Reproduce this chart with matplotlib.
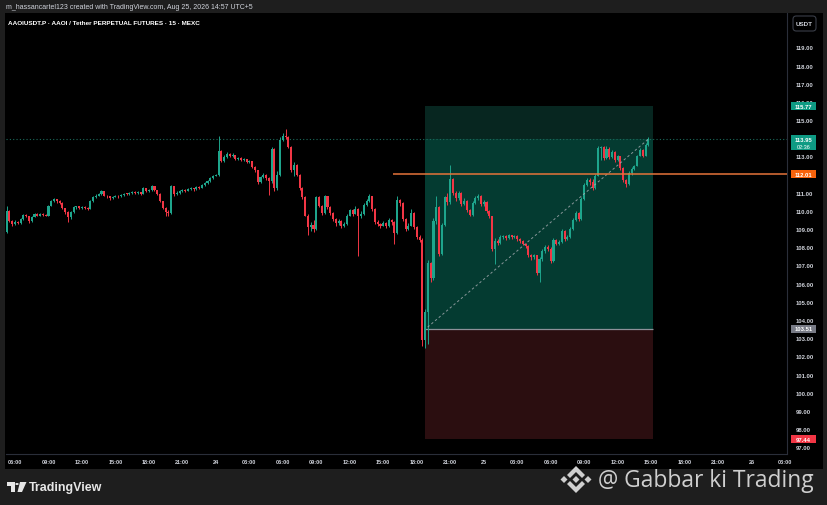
import numpy as np
import matplotlib
matplotlib.use("Agg")
import matplotlib.pyplot as plt
from matplotlib.patches import Rectangle, Polygon, Circle, FancyBboxPatch

plt.rcParams['font.family'] = ['Liberation Sans', 'DejaVu Sans']

W, H = 828, 506

# 15 minute candles, first bar is 05:15 on the 23rd (bar 0 = 06:00)
first_bar = -3
first_open = 108.85
closes = [
    110.00, 109.45, 109.30, 109.40, 109.35, 109.55, 109.80, 109.72, 109.45, 109.68,
    109.85, 109.75, 109.85, 109.80, 109.75, 110.30, 110.55, 110.65, 110.55, 110.45,
    110.15, 109.95, 109.65, 109.95, 110.20, 110.25, 110.15, 110.22, 110.18, 110.12,
    110.55, 110.75, 110.85, 110.95, 111.10, 110.85, 110.80, 110.70, 110.78, 110.85,
    110.80, 110.90, 110.95, 110.92, 111.00, 111.05, 110.98, 111.02, 110.95, 111.25,
    111.10, 111.15, 111.35, 111.15, 110.95, 110.55, 110.15, 109.95, 109.90, 111.35,
    110.95, 111.00, 111.10, 111.15, 111.10, 111.20, 111.25, 111.20, 111.30, 111.28,
    111.45, 111.55, 111.65, 111.80, 111.95, 112.00, 113.30, 112.75, 112.95, 113.15,
    113.05, 113.10, 112.85, 112.90, 112.80, 112.85, 112.70, 112.75, 112.40, 112.25,
    111.60, 111.85, 112.00, 111.80, 111.65, 113.40, 111.25, 112.00, 113.90, 114.15,
    114.05, 113.50, 112.25, 112.55, 112.00, 111.25, 110.75, 109.75, 109.10, 109.25,
    109.00, 110.75, 110.30, 109.90, 110.80, 110.20, 109.90, 109.55, 109.35, 109.45,
    109.20, 109.30, 109.75, 110.05, 109.85, 110.10, 109.70, 109.85, 110.35, 110.55,
    110.80, 110.10, 109.40, 109.30, 109.20, 109.35, 109.15, 109.50, 109.40, 108.80,
    110.60, 110.45, 109.55, 109.00, 109.20, 109.90, 109.10, 108.55, 108.40, 102.90,
    104.45, 107.15, 106.30, 109.45, 110.20, 107.65, 109.25, 110.75, 110.50, 111.75,
    111.00, 110.70, 111.00, 110.40, 110.55, 110.05, 109.80, 110.45, 110.70, 110.85,
    110.40, 110.50, 110.00, 109.70, 107.90, 108.35, 108.25, 108.55, 108.60, 108.50,
    108.65, 108.55, 108.60, 108.45, 108.35, 108.20, 108.05, 107.55, 107.45, 107.55,
    106.60, 107.35, 107.80, 108.00, 107.90, 107.25, 108.40, 108.20, 108.30, 108.90,
    108.45, 108.55, 109.00, 109.50, 109.90, 109.55, 110.65, 111.45, 111.70, 111.60,
    111.25, 111.95, 113.45, 113.50, 112.90, 113.40, 112.95, 113.25, 112.80, 113.00,
    112.35, 111.70, 111.50, 112.10, 112.30, 112.50, 113.05, 113.35, 113.05, 113.65,
    113.95,
]
highs = [
    110.27, 110.05, 109.50, 109.50, 109.45, 109.60, 109.85, 109.85, 109.75, 109.72,
    109.90, 109.88, 109.90, 109.88, 109.82, 110.35, 110.60, 110.72, 110.65, 110.60,
    110.50, 110.15, 110.00, 110.00, 110.25, 110.30, 110.28, 110.28, 110.25, 110.22,
    110.60, 110.80, 110.92, 111.00, 111.18, 111.10, 110.90, 110.85, 110.82, 110.90,
    110.88, 110.95, 111.00, 111.00, 111.05, 111.10, 111.08, 111.08, 111.05, 111.30,
    111.28, 111.22, 111.45, 111.38, 111.18, 111.00, 110.55, 110.20, 110.05, 111.45,
    111.30, 111.10, 111.15, 111.20, 111.20, 111.25, 111.30, 111.28, 111.35, 111.35,
    111.50, 111.60, 111.70, 111.85, 112.00, 112.05, 114.15, 113.35, 113.10, 113.25,
    113.20, 113.20, 113.10, 112.98, 112.95, 112.92, 112.88, 112.82, 112.70, 112.45,
    112.25, 111.95, 112.10, 112.05, 111.85, 113.50, 113.45, 112.20, 114.05, 114.30,
    114.50, 114.15, 113.55, 112.70, 112.60, 112.05, 111.30, 110.80, 109.85, 109.40,
    109.50, 110.85, 110.80, 110.35, 110.90, 110.85, 110.25, 109.95, 109.60, 109.55,
    109.50, 109.40, 109.85, 110.10, 110.10, 110.30, 110.15, 110.00, 110.45, 110.65,
    110.95, 110.85, 110.15, 109.50, 109.35, 109.45, 109.40, 109.60, 109.55, 109.45,
    110.80, 110.65, 110.50, 109.60, 109.35, 110.10, 109.95, 109.15, 108.65, 108.50,
    104.60, 107.30, 107.20, 109.60, 110.80, 110.25, 109.35, 110.85, 111.00, 112.55,
    111.80, 111.10, 111.10, 111.05, 110.70, 110.60, 110.10, 110.55, 110.80, 110.95,
    110.90, 110.60, 110.55, 110.05, 109.75, 108.50, 108.45, 108.65, 108.70, 108.65,
    108.72, 108.70, 108.70, 108.65, 108.50, 108.40, 108.25, 108.10, 107.65, 107.65,
    107.60, 107.45, 107.90, 108.10, 108.10, 108.00, 108.50, 108.45, 108.40, 109.00,
    108.95, 108.65, 109.10, 109.60, 110.00, 109.95, 110.75, 111.55, 111.80, 111.80,
    111.75, 112.05, 113.55, 113.60, 113.55, 113.55, 113.50, 113.35, 113.30, 113.10,
    113.05, 112.40, 111.75, 112.20, 112.40, 112.55, 113.10, 113.45, 113.40, 113.75,
    114.05,
]
lows = [
    108.80, 109.40, 109.20, 109.25, 109.28, 109.30, 109.50, 109.65, 109.35, 109.42,
    109.65, 109.70, 109.72, 109.74, 109.70, 109.72, 110.25, 110.50, 110.45, 110.40,
    110.10, 109.85, 109.40, 109.55, 109.90, 110.12, 110.10, 110.12, 110.10, 110.05,
    110.10, 110.50, 110.70, 110.80, 110.90, 110.80, 110.72, 110.62, 110.65, 110.75,
    110.74, 110.78, 110.85, 110.86, 110.90, 110.95, 110.92, 110.94, 110.88, 110.92,
    111.05, 111.05, 111.10, 111.10, 110.90, 110.50, 110.10, 109.75, 109.70, 109.85,
    110.85, 110.90, 110.95, 111.05, 111.02, 111.08, 111.15, 111.12, 111.18, 111.20,
    111.25, 111.40, 111.50, 111.60, 111.75, 111.90, 111.95, 112.70, 112.70, 112.90,
    112.95, 112.98, 112.80, 112.80, 112.75, 112.75, 112.65, 112.62, 112.35, 112.15,
    111.50, 111.55, 111.80, 111.70, 110.90, 111.55, 111.10, 111.15, 111.95, 113.85,
    113.95, 113.45, 112.15, 111.95, 111.90, 111.15, 110.65, 109.70, 108.65, 108.90,
    108.85, 108.95, 110.20, 109.80, 109.85, 110.10, 109.80, 109.45, 109.20, 109.25,
    109.05, 109.10, 109.25, 109.70, 109.75, 109.85, 107.50, 109.60, 109.80, 110.30,
    110.50, 110.00, 109.30, 109.15, 109.05, 109.15, 109.05, 109.10, 109.25, 108.20,
    108.75, 110.30, 109.45, 108.90, 108.95, 109.15, 109.00, 108.45, 108.30, 102.55,
    102.45, 102.70, 106.10, 106.20, 109.30, 107.50, 107.60, 109.20, 110.35, 110.40,
    110.90, 110.55, 110.60, 110.30, 110.35, 109.95, 109.70, 109.75, 110.40, 110.60,
    110.30, 110.30, 109.90, 109.60, 107.80, 107.10, 108.10, 108.20, 108.45, 108.40,
    108.45, 108.45, 108.50, 108.35, 108.25, 108.10, 107.95, 107.45, 107.30, 107.35,
    106.50, 106.10, 107.25, 107.70, 107.80, 107.15, 107.20, 108.10, 108.10, 108.25,
    108.35, 108.40, 108.50, 108.95, 109.45, 109.45, 109.50, 110.60, 111.40, 111.45,
    111.15, 111.20, 111.90, 112.80, 112.80, 112.85, 112.85, 112.90, 112.70, 112.75,
    112.25, 111.60, 111.30, 111.45, 112.00, 112.25, 112.45, 113.00, 112.95, 113.00,
    113.60,
]

tick_bars = [0, 12, 24, 36, 48, 60, 72, 84, 96, 108, 120, 132, 144, 156, 168, 180,
             192, 204, 216, 228, 240, 252, 264, 276]
tick_labels = ["06:00", "09:00", "12:00", "15:00", "18:00", "21:00", "24", "03:00",
               "06:00", "09:00", "12:00", "15:00", "18:00", "21:00", "25", "03:00",
               "06:00", "09:00", "12:00", "15:00", "18:00", "21:00", "26", "03:00"]
price_ticks = list(range(97, 120))

# long position tool
entry = 103.51
target = 115.77
stop = 97.44
pos_start, pos_end = 146.9, 228.7
# horizontal level
level = 112.01
level_start = 135.5
countdown = "02:36"

GREEN = '#1ea58c'
RED = '#f23645'


def px(x, y):
    return (x / W, 1 - y / H)


fig = plt.figure(figsize=(W / 100, H / 100), dpi=100)
fig.patch.set_facecolor('#1e1e1e')
fig.patches.append(Rectangle(px(5, 470), 818 / W, 456 / H, transform=fig.transFigure,
                             fc='black', ec='none', zorder=-1))

ax = fig.add_axes([5.7 / W, 1 - 455 / H, (787 - 5.7) / W, (455 - 14) / H])
ax.set_facecolor('black')
ax.set_xlim(-3.33, 276.7)
ax.set_ylim(96.63, 120.89)
for s in ['top', 'left']:
    ax.spines[s].set_visible(False)
for s in ['right', 'bottom']:
    ax.spines[s].set_color('#2a2e39')
    ax.spines[s].set_linewidth(0.8)

# candles
c = np.array(closes)
o = np.r_[first_open, c[:-1]]
h = np.maximum(np.array(highs), np.maximum(o, c))
l = np.minimum(np.array(lows), np.minimum(o, c))
bars = np.arange(first_bar, first_bar + len(c))
cols = np.where(c >= o, GREEN, RED)
ax.vlines(bars, l, h, colors=cols, lw=0.7, zorder=3)
ax.bar(bars, np.maximum(np.abs(c - o), 0.05), bottom=np.minimum(o, c), width=0.74,
       color=cols, lw=0, zorder=4)

# position tool
wbox = pos_end - pos_start
ax.add_patch(Rectangle((pos_start, entry), wbox, c[-1] - entry, fc='#043b31', ec='none', zorder=1))
ax.add_patch(Rectangle((pos_start, c[-1]), wbox, target - c[-1], fc='#072620', ec='none', zorder=1))
ax.add_patch(Rectangle((pos_start, stop), wbox, entry - stop, fc='#2b0e10', ec='none', zorder=1))
ax.hlines(entry, pos_start, pos_end, color='#8d9199', lw=0.9, zorder=2)
ax.plot([pos_start + 1, bars[-1]], [entry + 0.1, c[-1]], ls=(0, (2.5, 2.5)),
        color='#a9adb3', lw=0.7, alpha=0.8, zorder=5)

# level and last price line
ax.hlines(level, level_start, ax.get_xlim()[1], color='#e5743a', lw=1.1, zorder=5)
ax.axhline(c[-1], color='#1c6b5d', ls=(0, (1, 2)), lw=0.8, zorder=2)

ax.set_xticks(tick_bars, tick_labels)
ax.tick_params(axis='x', length=0, pad=3.6, labelsize=4, labelcolor='#d1d4dc')
ax.yaxis.tick_right()
ax.set_yticks(price_ticks, [f"{p:.2f}" for p in price_ticks])
ax.tick_params(axis='y', length=0, pad=6, labelsize=4.2, labelcolor='#d1d4dc')
for t in ax.get_xticklabels() + ax.get_yticklabels():
    t.set_fontweight('bold')


def yfig(price):
    return ax.transData.transform((0, price))[1] / H


def tag(price, text, color, h=8):
    yf = yfig(price)
    fig.patches.append(Rectangle((791 / W, yf - h / 2 / H), 25 / W, h / H,
                                 transform=fig.transFigure, fc=color, ec='none', zorder=5))
    fig.text(803.5 / W, yf, text, ha='center', va='center', fontsize=4.2, color='white',
             fontweight='bold', zorder=6)


tag(target, f"{target:.2f}", '#0e9a83')
tag(level, f"{level:.2f}", '#f7630c')
tag(entry, f"{entry:.2f}", '#787b86')
tag(stop, f"{stop:.2f}", RED)
# last price with countdown
yl = yfig(c[-1])
fig.patches.append(Rectangle((791 / W, yl - 11 / H), 25 / W, 15 / H,
                             transform=fig.transFigure, fc='#0e9a83', ec='none', zorder=5))
fig.text(803.5 / W, yl, f"{c[-1]:.2f}", ha='center', va='center', fontsize=4.2, color='white',
         fontweight='bold', zorder=6)
fig.text(803.5 / W, yl - 7 / H, countdown, ha='center', va='center', fontsize=4, color='white', zorder=6)

# USDT button
fig.patches.append(FancyBboxPatch(px(793, 32), 23 / W, 15 / H, boxstyle="round,pad=0,rounding_size=0.004",
                                  mutation_aspect=W / H, transform=fig.transFigure,
                                  fc='black', ec='#3a3e48', lw=0.8, zorder=5))
fig.text(*px(804.5, 24.5), "USDT", ha='center', va='center', fontsize=4.5, color='#d1d4dc',
         fontweight='bold', zorder=6)

# header and title
fig.text(*px(6, 7.5), "m_hassancartel123 created with TradingView.com, Aug 25, 2026 14:57 UTC+5",
         ha='left', va='center', fontsize=5, color='#d1d4dc')
fig.text(*px(8, 24), "AAOIUSDT.P · AAOI / Tether PERPETUAL FUTURES · 15 · MEXC",
         ha='left', va='center', fontsize=4.6, color='white', fontweight='bold')

# TradingView footer logo
logo = '#e6e6e6'
fig.patches.append(Polygon([px(7, 483), px(14.5, 483), px(14.5, 493), px(11, 493), px(11, 486.5), px(7, 486.5)],
                           closed=True, transform=fig.transFigure, fc=logo, ec='none'))
fig.patches.append(Circle(px(17, 485), 1.7 / W, transform=fig.transFigure, fc=logo, ec='none'))
fig.patches.append(Polygon([px(20, 483), px(26.5, 483), px(22, 493), px(17.5, 493)],
                           closed=True, transform=fig.transFigure, fc=logo, ec='none'))
fig.text(*px(29, 488), "TradingView", ha='left', va='center', fontsize=9, color=logo,
         fontweight='bold')

# watermark with logo
wm = '#cfcfcf'
shapes = [
    [(576, 467), (585, 476), (582, 479), (576, 473), (570, 479), (567, 476)],
    [(576, 494), (585, 485), (582, 482), (576, 488), (570, 482), (567, 485)],
    [(560.5, 480.5), (564, 477), (567.5, 480.5), (564, 484)],
    [(584.5, 480.5), (588, 477), (591.5, 480.5), (588, 484)],
    [(572.5, 480.5), (576, 477), (579.5, 480.5), (576, 484)],
]
for s in shapes:
    fig.patches.append(Polygon([px(*p) for p in s], closed=True, transform=fig.transFigure,
                               fc=wm, ec='none', zorder=6))
fig.text(*px(598, 481), "@ Gabbar ki Trading", ha='left', va='center', fontsize=16.4,
         color=wm, family=['Open Sans', 'DejaVu Sans'], zorder=6)

fig.savefig("out.png", dpi=100, facecolor=fig.get_facecolor())
